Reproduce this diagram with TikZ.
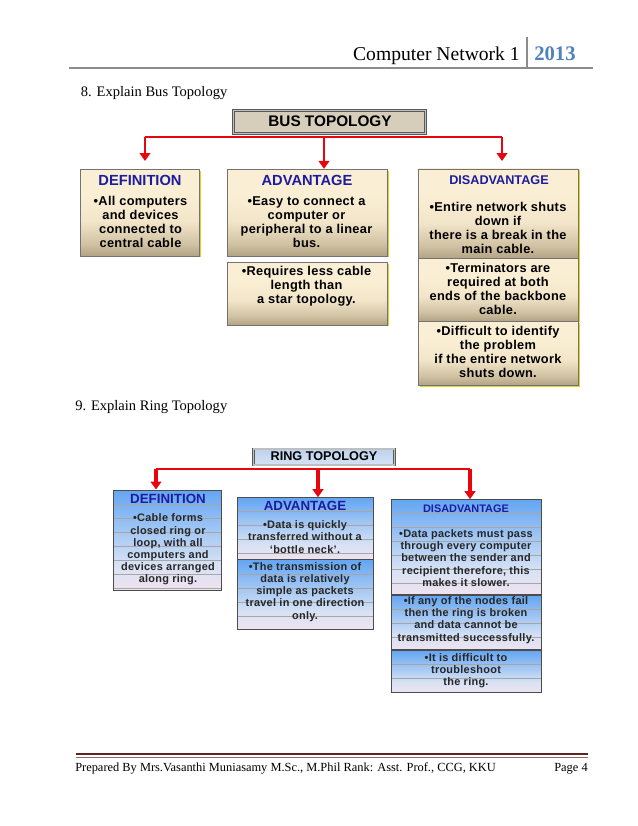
\documentclass[tikz,border=0pt]{standalone}
\usepackage{fontspec}
\setmainfont{Liberation Serif}
\newfontfamily\boxfont[LetterSpace=2.5]{Liberation Sans}
\newfontfamily\headfont{Liberation Sans}
\usetikzlibrary{arrows.meta}
\definecolor{netblue}{HTML}{4F81BD}
\definecolor{headblue}{HTML}{1C1CA0}
\definecolor{footmaroon}{HTML}{622423}
\definecolor{redline}{HTML}{E8060E}
\pgfdeclareverticalshading{tanshade}{100bp}{
  rgb(0bp)=(.70,.64,.52);
  rgb(25bp)=(.70,.64,.52);
  rgb(32bp)=(.82,.76,.64);
  rgb(45bp)=(.95,.90,.79);
  rgb(60bp)=(.98,.933,.83);
  rgb(100bp)=(.98,.933,.83)}
\pgfdeclareverticalshading{blueshade}{100bp}{
  rgb(0bp)=(.94,.885,.94);
  rgb(25bp)=(.94,.885,.94);
  rgb(38bp)=(.84,.885,.957);
  rgb(75bp)=(.39,.65,.95);
  rgb(100bp)=(.345,.588,.91)}
\begin{document}
\begin{tikzpicture}[x=0.75pt,y=-0.75pt,
    bustitle/.style={draw=black!65,double=black!25,double distance=1pt,line width=.5pt,fill={rgb,255:red,214;green,205;blue,186},inner sep=0pt},
    ringtitle/.style={draw=black!65,double=black!25,double distance=1pt,line width=.5pt,top color={rgb,255:red,190;green,210;blue,238},bottom color={rgb,255:red,214;green,226;blue,244},inner sep=0pt},
    titletext/.style={font=\headfont\bfseries\fontsize{11.5}{13}\selectfont},
    busbox/.style={draw=black!55,line width=.5pt,shading=tanshade,inner sep=0pt,
        preaction={fill=yellow!85!black,transform canvas={xshift=1.2pt,yshift=-1.2pt}}},
    ringbox/.style={draw=black!70,line width=.7pt,shading=blueshade,inner sep=0pt,
        path picture={\foreach \n in {1,...,7} \draw[black!35,line width=.3pt] ([yshift=-\n*10.5pt]path picture bounding box.north west) -- ([yshift=-\n*10.5pt]path picture bounding box.north east);}},
    bushead/.style={text=headblue,font=\headfont\bfseries\fontsize{11}{12}\selectfont},
    ringhead/.style={text=headblue,font=\headfont\bfseries\fontsize{10}{12}\selectfont},
    bustext/.style={align=center,inner sep=0pt,font=\boxfont\bfseries\fontsize{9.6}{10.5}\selectfont},
    ringtext/.style={align=center,inner sep=0pt,text=black!85,font=\boxfont\bfseries\fontsize{8.2}{9.1}\selectfont},
    redarrow/.style={redline,line width=2pt,-{Stealth[length=6pt,width=8pt,inset=0pt]}},
    ringarrow/.style={redline,line width=2.8pt,-{Stealth[length=6pt,width=8pt,inset=0pt]}}]
    \useasboundingbox (0,0) rectangle (638,826);
    \fill[white] (0,0) rectangle (638,826);

    % Kopfzeile
    \node[anchor=base east,inner sep=0pt,font=\fontsize{14.7}{18}\selectfont] (headline) at (520,60) {Computer Network 1};
    \node[anchor=base west,inner sep=0pt,text=netblue,font=\bfseries\fontsize{15.5}{18}\selectfont] (headyear) at (534,60) {2013};
    \draw[black!45,line width=1.5pt] (69,68) -- (593,68);
    \draw[black!45,line width=.8pt] (527,37) -- (527,68);

    % Fragen
    \node[anchor=base west,inner sep=0pt,font=\fontsize{10.9}{12}\selectfont] (busquestion) at (80.7,96.5) {8. Explain Bus Topology};
    \node[anchor=base west,inner sep=0pt,font=\fontsize{10.9}{12}\selectfont] (ringquestion) at (75,410) {9. Explain Ring Topology};

    % Bus
    \node[bustitle,minimum width=144pt,minimum height=17pt] (bustop) at (329.5,122) {};
    \node[titletext] (bustoptext) at (330,121) {BUS TOPOLOGY};

    \node[busbox,minimum width=89pt,minimum height=65pt] (busdef) at (140,212.5) {};
    \node[busbox,minimum width=120pt,minimum height=65pt] (busadv) at (307,212.5) {};
    \node[busbox,minimum width=120pt,minimum height=47pt] (busadvb) at (307,293.5) {};
    \node[busbox,minimum width=120pt,minimum height=67pt] (busdis) at (498,213.5) {};
    \node[busbox,minimum width=120pt,minimum height=47pt] (busdisb) at (498,289.5) {};
    \node[busbox,minimum width=120pt,minimum height=48pt] (busdisc) at (498,353) {};

    \node[bushead,anchor=base] (busdefhead) at (140,185) {DEFINITION};
    \node[bushead,anchor=base] (busadvhead) at (307,185) {ADVANTAGE};
    \node[bushead,anchor=base,font=\headfont\bfseries\fontsize{9.5}{12}\selectfont] (busdishead) at (499,184) {DISADVANTAGE};

    \node[bustext] (busdeftext) at (140.5,222) {•All computers\\and devices\\connected  to\\central cable};
    \node[bustext] (busadvtext) at (306.5,222) {•Easy to connect a\\computer or\\peripheral to a linear\\bus.};
    \node[bustext] (busadvbtext) at (306.5,286) {•Requires less cable\\length than\\a star topology.};
    \node[bustext] (busdistext) at (498,228) {•Entire network shuts\\down if\\there is a break in the\\main cable.};
    \node[bustext] (busdisbtext) at (498,289) {•Terminators are\\required at both\\ends of the backbone\\cable.};
    \node[bustext] (busdisctext) at (498,352) {•Difficult to identify\\the problem\\if the entire network\\shuts down.};

    \coordinate (busl) at (145,137);
    \coordinate (busm) at (324,137);
    \coordinate (busr) at (502,137);
    \coordinate (buslend) at (145,161);
    \coordinate (busrend) at (502,161);
    \draw[redline,line width=2pt] (busl) -- (busr);
    \draw[redarrow] (busl) -- (buslend);
    \draw[redarrow] (busm) -- (busm |- busadv.north);
    \draw[redarrow] (busr) -- (busrend);

    % Ring
    \node[ringtitle,minimum width=106pt,minimum height=12pt] (ringtop) at (324,457) {};
    \node[titletext,font=\headfont\bfseries\fontsize{9.5}{11}\selectfont] (ringtoptext) at (324,456.5) {RING TOPOLOGY};

    \node[ringbox,minimum width=81.5pt,minimum height=75pt] (ringdef) at (167.5,540) {};
    \node[ringbox,minimum width=102pt,minimum height=47pt] (ringadv) at (305,529) {};
    \node[ringbox,minimum width=102pt,minimum height=52pt] (ringadvb) at (305,594.5) {};
    \node[ringbox,minimum width=113pt,minimum height=71pt] (ringdis) at (466.5,547) {};
    \node[ringbox,minimum width=113pt,minimum height=41pt] (ringdisb) at (466.5,622.5) {};
    \node[ringbox,minimum width=113pt,minimum height=32pt] (ringdisc) at (466.5,671.5) {};

    \node[ringhead,anchor=base] (ringdefhead) at (168,503) {DEFINITION};
    \node[ringhead,anchor=base] (ringadvhead) at (305,510) {ADVANTAGE};
    \node[ringhead,anchor=base,font=\headfont\bfseries\fontsize{8.2}{10}\selectfont] (ringdishead) at (466,512) {DISADVANTAGE};

    \node[ringtext] (ringdeftext) at (168,549.5) {•Cable forms\\closed ring or\\loop, with all\\computers and\\devices arranged\\along ring.};
    \node[ringtext] (ringadvtext) at (305,537) {•Data is quickly\\transferred without a\\‘bottle neck’.};
    \node[ringtext] (ringadvbtext) at (305,592) {•The transmission of\\data is relatively\\simple as packets\\travel in one direction\\only.};
    \node[ringtext] (ringdistext) at (466,558) {•Data packets must pass\\through every computer\\between the sender and\\recipient therefore, this\\makes it slower.};
    \node[ringtext] (ringdisbtext) at (466,620) {•If any of the nodes fail\\then the ring is broken\\and data cannot be\\transmitted successfully.};
    \node[ringtext] (ringdisctext) at (466,671) {•It is difficult to\\troubleshoot\\the ring.};

    \coordinate (ringl) at (156,469);
    \coordinate (ringm) at (318,469);
    \coordinate (ringr) at (470,469);
    \draw[redline,line width=2pt] (ringl) -- (ringr);
    \draw[ringarrow] (ringl) -- (ringl |- ringdef.north);
    \draw[ringarrow] (ringm) -- (ringm |- ringadv.north);
    \draw[ringarrow] (ringr) -- (ringr |- ringdis.north);

    % Fusszeile
    \draw[footmaroon,line width=2pt] (76,754) -- (588,754);
    \draw[footmaroon!70,line width=.6pt] (76,757.5) -- (588,757.5);
    \node[anchor=base west,inner sep=0pt,font=\fontsize{9.3}{11}\selectfont] (footleft) at (75,771) {Prepared By Mrs.Vasanthi Muniasamy M.Sc., M.Phil Rank: Asst. Prof., CCG, KKU};
    \node[anchor=base east,inner sep=0pt,font=\fontsize{9.3}{11}\selectfont] (footright) at (588,771) {Page 4};
\end{tikzpicture}
\end{document}
